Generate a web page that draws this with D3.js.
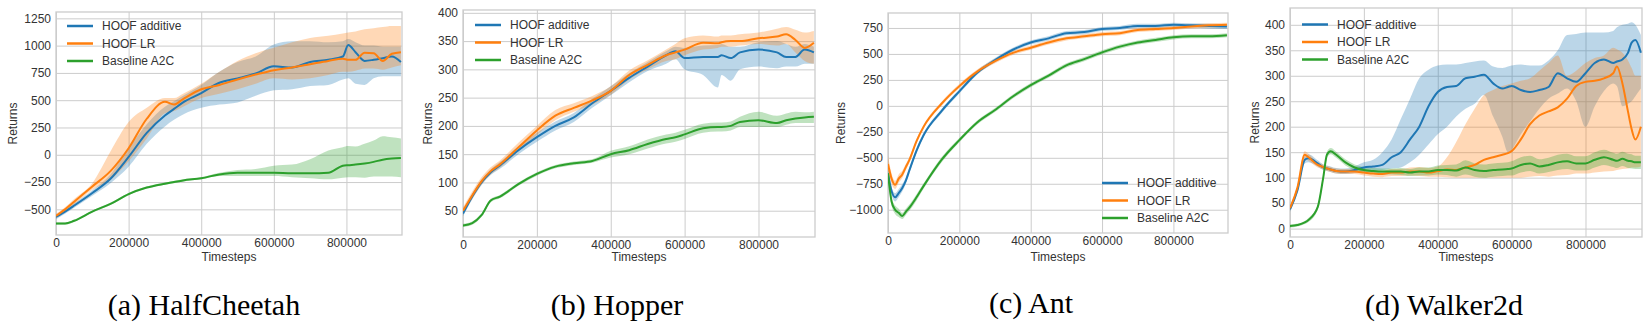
<!DOCTYPE html>
<html>
<head>
<meta charset="utf-8">
<script src="https://cdn.jsdelivr.net/npm/d3@7"></script>
<style>
  body { margin: 0; background: #fff; }
  text { font-family: "Liberation Sans", Arial, sans-serif; }
</style>
</head>
<body>
<script>
// shared labels
var seriesNames = ["HOOF additive", "HOOF LR", "Baseline A2C"];
var seriesColors = ["#1f77b4", "#ff7f0e", "#2ca02c"];
var xTicks = [0, 200, 400, 600, 800]; // thousands of timesteps
var captions = ["(a) HalfCheetah", "(b) Hopper", "(c) Ant", "(d) Walker2d"];

// ---- (a) HalfCheetah ----
var cheetahSteps = [0, 25, 50, 100, 150, 200, 250, 300, 325, 350, 400, 450, 500, 550, 600, 650, 700, 750, 790, 805, 825, 850, 875, 900, 925, 950];
var cheetahYTicks = [-500, -250, 0, 250, 500, 750, 1000, 1250];
var cheetahAddMean = [-570, -520, -465, -350, -220, -20, 200, 360, 420, 480, 565, 660, 700, 745, 810, 800, 850, 870, 900, 1005, 940, 860, 870, 885, 900, 850];
var cheetahAddLo = [-590, -540, -485, -375, -260, -110, 100, 260, 320, 370, 430, 460, 480, 540, 590, 600, 630, 640, 690, 700, 650, 640, 700, 720, 720, 720];
var cheetahAddHi = [-550, -500, -445, -325, -180, 60, 280, 440, 490, 540, 640, 760, 850, 900, 1010, 1040, 1040, 1030, 1040, 1060, 1030, 1000, 1000, 990, 990, 990];
var cheetahLrMean = [-560, -500, -430, -290, -150, 60, 330, 485, 460, 510, 600, 640, 690, 735, 775, 800, 830, 860, 880, 870, 870, 935, 930, 860, 925, 940];
var cheetahLrLo = [-580, -520, -455, -320, -230, -60, 150, 380, 400, 440, 520, 560, 600, 650, 700, 690, 700, 730, 760, 760, 770, 790, 790, 780, 800, 820];
var cheetahLrHi = [-540, -480, -405, -260, 30, 300, 430, 520, 520, 560, 650, 760, 860, 930, 980, 1030, 1070, 1090, 1110, 1120, 1130, 1150, 1160, 1170, 1180, 1180];
var cheetahA2cMean = [-630, -630, -605, -520, -450, -360, -300, -265, -250, -235, -215, -180, -165, -165, -165, -170, -170, -165, -100, -95, -90, -80, -65, -45, -35, -30];
var cheetahA2cLo = [-640, -640, -615, -530, -460, -370, -310, -275, -260, -245, -225, -195, -195, -195, -195, -205, -215, -225, -210, -205, -205, -210, -200, -200, -200, -205];
var cheetahA2cHi = [-620, -620, -595, -510, -440, -350, -290, -255, -240, -225, -205, -165, -140, -130, -100, -90, -40, 40, 70, 80, 75, 100, 130, 170, 160, 150];

// ---- (b) Hopper ----
var hopperSteps = [0, 25, 50, 75, 100, 150, 200, 250, 300, 350, 400, 450, 500, 550, 575, 600, 650, 690, 700, 725, 750, 800, 850, 875, 900, 925, 950];
var hopperYTicks = [50, 100, 150, 200, 250, 300, 350, 400];
var hopperAddMean = [45, 75, 100, 118, 130, 157, 180, 200, 215, 240, 262, 285, 305, 325, 332, 320, 322, 322, 325, 320, 330, 335, 330, 322, 322, 335, 330];
var hopperAddLo = [40, 70, 95, 113, 124, 150, 172, 192, 207, 232, 254, 277, 297, 310, 318, 300, 290, 268, 290, 280, 300, 305, 302, 305, 305, 310, 310];
var hopperAddHi = [50, 80, 105, 123, 136, 164, 188, 208, 223, 248, 270, 293, 313, 332, 340, 338, 342, 343, 345, 340, 340, 348, 350, 345, 340, 345, 340];
var hopperLrMean = [50, 77, 102, 120, 132, 162, 192, 218, 232, 245, 262, 290, 308, 325, 330, 335, 347, 346, 348, 350, 350, 355, 358, 362, 352, 338, 347];
var hopperLrLo = [45, 71, 96, 114, 126, 155, 184, 210, 225, 238, 255, 282, 300, 315, 318, 325, 335, 338, 340, 340, 342, 345, 342, 345, 330, 315, 310];
var hopperLrHi = [56, 84, 109, 127, 139, 170, 200, 228, 240, 253, 270, 298, 316, 335, 345, 355, 360, 358, 360, 360, 362, 365, 372, 375, 370, 365, 368];
var hopperA2cMean = [24, 28, 42, 68, 75, 97, 115, 128, 134, 138, 150, 157, 168, 177, 180, 185, 196, 198, 198, 200, 207, 210, 205, 210, 213, 215, 216];
var hopperA2cLo = [21, 25, 39, 65, 72, 94, 112, 125, 131, 135, 144, 150, 160, 169, 172, 177, 188, 190, 190, 192, 198, 198, 198, 202, 205, 205, 205];
var hopperA2cHi = [27, 31, 45, 71, 78, 100, 118, 131, 137, 141, 156, 164, 176, 185, 188, 193, 204, 206, 206, 208, 216, 225, 218, 222, 225, 224, 225];

// ---- (c) Ant ----
var antSteps = [0, 10, 20, 30, 40, 50, 60, 80, 100, 150, 200, 250, 300, 350, 400, 450, 500, 550, 600, 650, 700, 750, 800, 850, 900, 950];
var antYTicks = [-1000, -750, -500, -250, 0, 250, 500, 750];
var antAddMean = [-650, -820, -880, -840, -790, -720, -620, -430, -280, -50, 140, 320, 440, 540, 610, 650, 700, 710, 740, 750, 770, 770, 780, 775, 770, 765];
var antAddLo = [-700, -860, -920, -880, -825, -750, -650, -455, -300, -70, 120, 300, 420, 520, 590, 630, 680, 690, 720, 730, 750, 750, 760, 755, 745, 740];
var antAddHi = [-600, -780, -840, -800, -755, -690, -590, -405, -260, -30, 160, 340, 460, 560, 630, 670, 720, 730, 760, 770, 790, 790, 800, 795, 790, 785];
var antLrMean = [-560, -700, -760, -700, -660, -590, -520, -340, -200, 20, 190, 330, 430, 510, 560, 610, 650, 670, 690, 700, 730, 740, 750, 765, 775, 780];
var antLrLo = [-620, -750, -800, -740, -695, -620, -545, -360, -220, 0, 170, 310, 410, 490, 540, 590, 630, 650, 670, 680, 710, 720, 730, 745, 755, 760];
var antLrHi = [-480, -650, -720, -660, -625, -560, -495, -320, -180, 40, 210, 350, 450, 530, 580, 630, 670, 690, 710, 720, 750, 760, 770, 785, 795, 800];
var antA2cMean = [-650, -920, -1000, -1030, -1060, -1020, -980, -880, -770, -520, -330, -160, -40, 90, 200, 290, 390, 450, 515, 570, 610, 635, 660, 670, 670, 680];
var antA2cLo = [-700, -960, -1040, -1070, -1090, -1050, -1010, -910, -795, -545, -350, -180, -60, 70, 180, 270, 370, 430, 495, 550, 590, 615, 640, 650, 650, 660];
var antA2cHi = [-600, -880, -960, -990, -1030, -990, -950, -850, -745, -495, -310, -140, -20, 110, 220, 310, 410, 470, 535, 590, 630, 655, 680, 690, 690, 700];

// ---- (d) Walker2d ----
var walkerSteps = [0, 20, 40, 50, 75, 90, 100, 110, 125, 150, 175, 200, 225, 250, 275, 300, 325, 350, 375, 400, 425, 450, 475, 500, 525, 550, 575, 590, 600, 625, 650, 675, 700, 725, 750, 775, 800, 825, 850, 875, 885, 900, 915, 925, 935, 950];
var walkerYTicks = [0, 50, 100, 150, 200, 250, 300, 350, 400];
var walkerAddMean = [38, 75, 135, 138, 128, 120, 118, 116, 113, 112, 115, 120, 122, 125, 140, 150, 175, 200, 240, 268, 278, 280, 295, 298, 302, 285, 275, 278, 280, 272, 268, 272, 278, 305, 295, 288, 305, 325, 332, 325, 328, 332, 345, 365, 370, 345];
var walkerAddLo = [33, 70, 128, 130, 122, 115, 113, 111, 108, 107, 109, 112, 113, 115, 118, 120, 130, 145, 165, 185, 200, 220, 235, 245, 262, 220, 180, 150, 155, 185, 210, 235, 255, 265, 275, 250, 200, 240, 270, 285, 280, 240, 245, 250, 260, 275];
var walkerAddHi = [43, 80, 142, 146, 134, 126, 124, 122, 119, 118, 122, 130, 135, 150, 175, 215, 255, 295, 312, 320, 322, 322, 325, 328, 330, 318, 315, 318, 320, 322, 320, 320, 330, 350, 380, 382, 385, 385, 385, 388, 395, 400, 402, 405, 400, 380];
var walkerLrMean = [40, 80, 145, 140, 125, 121, 118, 116, 113, 112, 112, 110, 108, 107, 110, 110, 112, 112, 110, 113, 116, 115, 120, 125, 135, 140, 145, 148, 152, 175, 205, 222, 230, 238, 255, 280, 288, 290, 295, 305, 318, 285, 230, 195, 175, 200];
var walkerLrLo = [35, 75, 138, 133, 120, 116, 113, 111, 108, 107, 107, 104, 102, 101, 103, 103, 104, 103, 102, 102, 101, 100, 100, 100, 100, 100, 100, 100, 100, 100, 102, 103, 102, 104, 105, 108, 108, 110, 112, 113, 115, 117, 118, 120, 120, 122];
var walkerLrHi = [45, 85, 152, 147, 130, 126, 123, 121, 118, 117, 117, 116, 114, 113, 117, 117, 120, 121, 119, 122, 140, 170, 205, 235, 262, 272, 280, 283, 285, 290, 295, 310, 325, 340, 300, 310, 325, 335, 340, 355, 352, 345, 330, 315, 300, 300];
var walkerA2cMean = [5, 7, 12, 17, 42, 100, 145, 152, 145, 130, 120, 115, 113, 112, 112, 112, 110, 112, 112, 115, 115, 114, 120, 115, 113, 115, 116, 117, 118, 125, 128, 122, 125, 130, 132, 128, 128, 135, 140, 135, 133, 137, 133, 132, 130, 130];
var walkerA2cLo = [2, 4, 9, 13, 37, 94, 139, 146, 139, 124, 114, 109, 107, 106, 106, 105, 103, 104, 104, 106, 105, 102, 106, 102, 100, 102, 103, 104, 104, 110, 113, 108, 111, 115, 117, 114, 114, 120, 125, 121, 119, 123, 119, 118, 117, 117];
var walkerA2cHi = [8, 10, 15, 21, 47, 106, 151, 158, 151, 136, 126, 121, 119, 118, 118, 119, 117, 120, 120, 124, 125, 126, 134, 128, 126, 128, 129, 130, 132, 140, 143, 136, 139, 145, 147, 142, 142, 150, 155, 149, 147, 151, 147, 146, 143, 143];

// panel layout (pixels) + which data goes where
var panels = [
  { steps: cheetahSteps, yTicks: cheetahYTicks, yDomain: [-735, 1308],
    series: [[cheetahAddMean, cheetahAddLo, cheetahAddHi], [cheetahLrMean, cheetahLrLo, cheetahLrHi], [cheetahA2cMean, cheetahA2cLo, cheetahA2cHi]],
    left: 56, right: 402, top: 12, bottom: 235, ylabelX: 13,
    legend: { x: 67, y: 26 }, caption: { x: 204, y: 315 } },
  { steps: hopperSteps, yTicks: hopperYTicks, yDomain: [3.5, 405],
    series: [[hopperAddMean, hopperAddLo, hopperAddHi], [hopperLrMean, hopperLrLo, hopperLrHi], [hopperA2cMean, hopperA2cLo, hopperA2cHi]],
    left: 463, right: 815, top: 10, bottom: 237, ylabelX: 428,
    legend: { x: 475, y: 25 }, caption: { x: 617, y: 315 } },
  { steps: antSteps, yTicks: antYTicks, yDomain: [-1224, 894],
    series: [[antAddMean, antAddLo, antAddHi], [antLrMean, antLrLo, antLrHi], [antA2cMean, antA2cLo, antA2cHi]],
    left: 888, right: 1228, top: 13, bottom: 233, ylabelX: 841,
    legend: { x: 1102, y: 183 }, caption: { x: 1031, y: 313 } },
  { steps: walkerSteps, yTicks: walkerYTicks, yDomain: [-16.5, 433],
    series: [[walkerAddMean, walkerAddLo, walkerAddHi], [walkerLrMean, walkerLrLo, walkerLrHi], [walkerA2cMean, walkerA2cLo, walkerA2cHi]],
    left: 1290, right: 1642, top: 8, bottom: 237, ylabelX: 1255,
    legend: { x: 1302, y: 24.5 }, caption: { x: 1444, y: 315 } }
];

var xMax = 953; // thousands
var gridColor = "#cccccc";
var textColor = "#333333";

var svg = d3.select("body").append("svg")
    .attr("width", 1652)
    .attr("height", 326);

panels.forEach(function (p, pi) {
    var x = d3.scaleLinear().domain([0, xMax]).range([p.left, p.right]);
    var y = d3.scaleLinear().domain(p.yDomain).range([p.bottom, p.top]);
    var g = svg.append("g");

    // clip the curves to the plot box
    var clipId = "clip" + pi;
    svg.append("clipPath").attr("id", clipId)
        .append("rect")
        .attr("x", p.left).attr("y", p.top)
        .attr("width", p.right - p.left).attr("height", p.bottom - p.top);

    // grid + tick labels through d3 axes
    var xAxis = g.append("g")
        .attr("transform", "translate(0," + p.bottom + ")")
        .call(d3.axisBottom(x).tickValues(xTicks)
            .tickSize(-(p.bottom - p.top)).tickPadding(3.5)
            .tickFormat(function (d) { return d * 1000; }));
    var yAxis = g.append("g")
        .attr("transform", "translate(" + p.left + ",0)")
        .call(d3.axisLeft(y).tickValues(p.yTicks)
            .tickSize(-(p.right - p.left)).tickPadding(5)
            .tickFormat(d3.format("d")));

    [xAxis, yAxis].forEach(function (a) {
        a.select(".domain").remove();
        a.selectAll("line").attr("stroke", gridColor).attr("stroke-width", 1);
        a.selectAll("text").attr("fill", textColor).style("font-size", "12px")
            .style("font-family", "'Liberation Sans', Arial, sans-serif");
    });

    // frame
    g.append("rect")
        .attr("x", p.left).attr("y", p.top)
        .attr("width", p.right - p.left).attr("height", p.bottom - p.top)
        .attr("fill", "none").attr("stroke", gridColor).attr("stroke-width", 1.3);

    var plot = g.append("g").attr("clip-path", "url(#" + clipId + ")");

    var area = d3.area()
        .x(function (d) { return x(d.s); })
        .y0(function (d) { return y(d.lo); })
        .y1(function (d) { return y(d.hi); })
        .curve(d3.curveMonotoneX);
    var line = d3.line()
        .x(function (d) { return x(d.s); })
        .y(function (d) { return y(d.m); })
        .curve(d3.curveMonotoneX);

    var rows = p.series.map(function (s) {
        return p.steps.map(function (st, i) {
            return { s: st, m: s[0][i], lo: s[1][i], hi: s[2][i] };
        });
    });

    // shaded bands first, then mean lines
    rows.forEach(function (r, i) {
        plot.append("path").datum(r)
            .attr("d", area)
            .attr("fill", seriesColors[i])
            .attr("fill-opacity", 0.3);
    });
    rows.forEach(function (r, i) {
        plot.append("path").datum(r)
            .attr("d", line)
            .attr("fill", "none")
            .attr("stroke", seriesColors[i])
            .attr("stroke-width", 2);
    });

    // axis titles
    g.append("text")
        .attr("x", (p.left + p.right) / 2).attr("y", 261)
        .attr("text-anchor", "middle")
        .attr("fill", textColor).style("font-size", "12px")
        .text("Timesteps");
    g.append("text")
        .attr("transform", "translate(" + p.ylabelX + "," + ((p.top + p.bottom) / 2) + ") rotate(-90)")
        .attr("text-anchor", "middle")
        .attr("dominant-baseline", "central")
        .attr("fill", textColor).style("font-size", "12px")
        .text("Returns");

    // legend
    var leg = g.append("g").attr("transform", "translate(" + p.legend.x + "," + p.legend.y + ")");
    seriesNames.forEach(function (name, i) {
        var row = leg.append("g").attr("transform", "translate(0," + (i * 17.5) + ")");
        row.append("line")
            .attr("x1", 0).attr("x2", 26).attr("y1", 0).attr("y2", 0)
            .attr("stroke", seriesColors[i]).attr("stroke-width", 2.5);
        row.append("text")
            .attr("x", 35).attr("y", 0)
            .attr("dominant-baseline", "central")
            .attr("fill", textColor).style("font-size", "12px")
            .text(name);
    });

    // sub-figure caption
    svg.append("text")
        .attr("x", p.caption.x).attr("y", p.caption.y)
        .attr("text-anchor", "middle")
        .style("font-family", "'Liberation Serif', 'Times New Roman', serif")
        .style("font-size", "30px")
        .attr("fill", "#000")
        .text(captions[pi]);
});
</script>
</body>
</html>
